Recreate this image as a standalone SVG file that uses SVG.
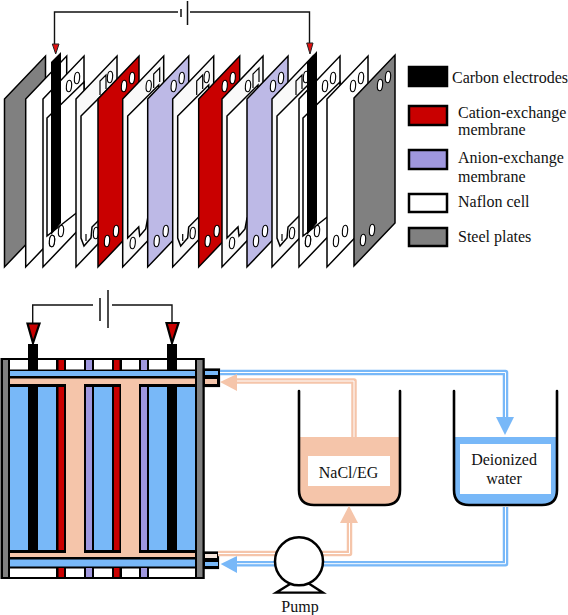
<svg xmlns="http://www.w3.org/2000/svg" width="568" height="615" viewBox="0 0 568 615">
<style>
text{font-family:"Liberation Serif","Times New Roman",serif;font-size:16px;fill:#111}
.m{text-anchor:middle}
.o{stroke:#000;stroke-width:1.500;stroke-linejoin:miter}
.h{fill:#fff;stroke:#000;stroke-width:1.100}
.w{fill:none;stroke:#111;stroke-width:1.400}
.k{fill:#000}
.leg{stroke:#000;stroke-width:2.500}
.bp{fill:none;stroke:#78b8f8;stroke-width:5.500;stroke-linejoin:round}
.pp{fill:none;stroke:#f5c5aa;stroke-width:5.500;stroke-linejoin:round}
.c{fill:none;stroke:#fff;stroke-width:1;stroke-linejoin:round}
.blue{fill:#78b8f8}.peach{fill:#f5c5aa}.red{fill:#c90000}.pur{fill:#9f97de}.gray{fill:#808080}
.bk{fill:none;stroke:#000;stroke-width:2.600;stroke-linecap:round}
.n{fill:none;stroke:#000;stroke-width:1.200}
</style>
<defs>
<ellipse id="hole" class="h" cx="0" cy="0" rx="2.600" ry="5.800" transform="rotate(5)"/>
<g id="holes"><use href="#hole" x="26" y="-13"/><use href="#hole" x="34" y="-21"/><use href="#hole" x="9" y="142"/><use href="#hole" x="18" y="132"/></g>
<path id="outline" d="M0,0L41,-43V125L0,168Z"/>
<g id="blank"><use href="#outline" fill="#fff" class="o"/></g>
<g id="plain"><use href="#outline" fill="#fff" class="o"/><use href="#holes"/></g>
<g id="solidred"><use href="#outline" class="o red"/><use href="#holes"/></g>
<g id="solidblue"><use href="#outline" class="o" fill="#bdb9e6"/><use href="#holes"/></g>
<g id="steel"><use href="#outline" class="o gray"/><use href="#holes"/></g>
<g id="simple"><use href="#outline" fill="#fff" class="o"/><use href="#holes"/><path d="M4,19L41,-17V108L4,137Z" fill="#fff" class="o"/><use href="#hole" x="9" y="142"/></g>
<g id="flowA"><use href="#outline" fill="#f9f9f9" class="o"/><path d="M5,17L36,-14V108L16,128L15,139L8,147L5,139Z" fill="#fff" class="o"/><use href="#hole" x="34" y="-22"/><use href="#hole" x="20" y="134"/><path class="n" d="M24,-4V-18L30,-24V-10"/><path class="n" d="M10,135V142"/></g>
<g id="flowB"><use href="#outline" fill="#f9f9f9" class="o"/><path d="M5,17L36,-14V108L25,119L23,130L17,137L16,128L5,139Z" fill="#fff" class="o"/><use href="#hole" x="26" y="-13"/><use href="#hole" x="10" y="144"/><path class="n" d="M31,-11V-25L37,-31V-17"/></g>
</defs>

<g id="stack">
<use id="plate-steel-left" href="#outline" class="o gray" x="4.500" y="99"/>
<use id="plate-2" href="#blank" x="25.700" y="99"/>
<use id="plate-3" href="#simple" x="43" y="99"/>
<polygon id="electrode-left" class="k" points="51,62 61,52 61,223 51,235"/>
<use id="plate-4" href="#flowA" x="76" y="99"/>
<use id="membrane-1" href="#solidred" x="98" y="99"/>
<use id="plate-5" href="#flowB" x="122.700" y="99"/>
<use id="membrane-2" href="#solidblue" x="147.700" y="99"/>
<use id="plate-6" href="#flowA" x="172.700" y="99"/>
<use id="membrane-3" href="#solidred" x="198.700" y="99"/>
<use id="plate-7" href="#flowB" x="222" y="99"/>
<use id="membrane-4" href="#solidblue" x="247" y="99"/>
<use id="plate-8" href="#flowA" x="272" y="99"/>
<use id="plate-9" href="#simple" x="299" y="99"/>
<polygon id="electrode-right" class="k" points="307,62 317,51 317,223 307,235"/>
<use id="plate-10" href="#plain" x="327" y="99"/>
<use id="plate-steel-right" href="#steel" x="354" y="98"/>
</g>

<g id="top-circuit">
<path class="w" d="M54.500,44V12H178M190,12H309.500V44"/>
<path d="M181,9V17M187.500,1V25" stroke="#111" stroke-width="1.500" fill="none"/>
<polygon points="52.300,44 59,44 55.700,54" fill="#e01010" stroke="#222" stroke-width="1"/>
<polygon points="306.700,43 313,43 310,54" fill="#e01010" stroke="#222" stroke-width="1"/>
</g>

<g id="legend">
<g id="legend-carbon"><rect class="leg k" x="409" y="67" width="38" height="19"/><text x="452" y="83">Carbon electrodes</text></g>
<g id="legend-cation"><rect class="leg red" x="409" y="106" width="38" height="19"/><text x="458" y="118">Cation-exchange</text><text x="458" y="135">membrane</text></g>
<g id="legend-anion"><rect class="leg pur" x="409" y="150" width="38" height="19"/><text x="458" y="163">Anion-exchange</text><text x="458" y="182">membrane</text></g>
<g id="legend-naflon"><rect class="leg" fill="#fff" x="409" y="194" width="38" height="18"/><text x="458" y="207">Naflon cell</text></g>
<g id="legend-steel"><rect class="leg gray" x="409" y="228" width="38" height="18"/><text x="458" y="242">Steel plates</text></g>
</g>

<g id="cell">
<rect x="1.500" y="359" width="202" height="219" fill="#fff" stroke="#000" stroke-width="2"/>
<rect class="blue" x="10" y="387" width="186" height="163"/>
<rect class="peach" x="10" y="377" width="186" height="8"/>
<rect class="peach" x="10" y="551" width="186" height="7"/>
<rect class="blue" x="10" y="370" width="186" height="7"/>
<rect class="blue" x="10" y="558" width="186" height="9"/>
<rect class="peach" x="66" y="377" width="18" height="180"/>
<rect class="peach" x="121" y="377" width="18" height="180"/>
<g fill="#000">
<rect x="10" y="369.500" width="186" height="1.500"/>
<rect x="10" y="376" width="186" height="2.500"/>
<rect x="10" y="384" width="56" height="3"/><rect x="84" y="384" width="37" height="3"/><rect x="139" y="384" width="57" height="3"/>
<rect x="10" y="550" width="56" height="3"/><rect x="84" y="550" width="37" height="3"/><rect x="139" y="550" width="57" height="3"/>
<rect x="10" y="557" width="186" height="2.500"/>
<rect x="10" y="566.500" width="186" height="2"/>
<rect x="56" y="359" width="10" height="11"/><rect x="84" y="359" width="10" height="11"/><rect x="112" y="359" width="10" height="11"/><rect x="139" y="359" width="10" height="11"/>
<rect x="56" y="384" width="10" height="168"/><rect x="84" y="384" width="10" height="168"/><rect x="112" y="384" width="9" height="168"/><rect x="139" y="384" width="10" height="168"/>
<rect x="56" y="568" width="10" height="10"/><rect x="84" y="568" width="10" height="10"/><rect x="112" y="568" width="10" height="10"/><rect x="139" y="568" width="10" height="10"/>
</g>
<rect class="red" x="58.500" y="360" width="5.500" height="10"/><rect class="red" x="58.500" y="387" width="5.500" height="163"/><rect class="red" x="58.500" y="568" width="5.500" height="9"/>
<rect class="pur" x="86" y="360" width="6" height="10"/><rect class="pur" x="86" y="387" width="6" height="163"/><rect class="pur" x="86" y="568" width="6" height="9"/>
<rect class="red" x="114" y="360" width="5.500" height="10"/><rect class="red" x="114" y="387" width="5.500" height="163"/><rect class="red" x="114" y="568" width="5.500" height="9"/>
<rect class="pur" x="141" y="360" width="6" height="10"/><rect class="pur" x="141" y="387" width="6" height="163"/><rect class="pur" x="141" y="568" width="6" height="9"/>
<rect class="blue" x="94" y="387" width="18" height="163"/>
<rect class="k" x="28" y="344" width="10" height="26"/><rect class="k" x="28" y="384" width="10" height="168"/>
<rect class="k" x="167" y="344" width="10" height="26"/><rect class="k" x="167" y="384" width="10" height="168"/>
<rect class="gray" x="2" y="359" width="7" height="219" stroke="#000" stroke-width="2"/>
<rect class="gray" x="196" y="359" width="7.500" height="219" stroke="#000" stroke-width="2"/>
<g stroke="#000" stroke-width="2.200">
<rect x="204" y="369.500" width="15" height="16.500" fill="#000"/>
<rect x="204" y="552.500" width="14" height="15.500" fill="#000"/>
</g>
<rect class="blue" x="205" y="371" width="13" height="4"/><rect class="peach" x="205" y="379" width="12" height="5"/>
<rect x="205" y="554" width="12" height="4" fill="#f5e5dc"/><rect class="blue" x="205" y="562" width="13" height="4"/>
</g>

<g id="bottom-circuit">
<path class="w" d="M32.700,323V305H93M112,305H172V323"/>
<path d="M100,298V321M108,290V328" stroke="#111" stroke-width="1.500" fill="none"/>
<polygon points="27.500,323.500 39.500,323.500 33,343" fill="#c90000" stroke="#000" stroke-width="2.200"/>
<polygon points="166.500,323 178.500,323 172,343" fill="#c90000" stroke="#000" stroke-width="2.200"/>
</g>

<g id="beaker-nacl">
<path class="peach" d="M299,437H400V490Q400,505 385,505H314Q299,505 299,490Z"/>
<path class="bk" d="M299,391V490Q299,505 314,505H385Q400,505 400,490V391"/>
<rect x="308" y="456" width="82" height="30" fill="#fff"/>
<text class="m" x="348.500" y="478">NaCl/EG</text>
</g>
<g id="beaker-water">
<path class="blue" d="M454,437H557V490Q557,505 542,505H469Q454,505 454,490Z"/>
<path class="bk" d="M454,391V490Q454,505 469,505H542Q557,505 557,490V391"/>
<rect x="460" y="444" width="91" height="50" fill="#fff"/>
<text class="m" x="504" y="465">Deionized</text>
<text class="m" x="504" y="484">water</text>
</g>

<g id="connectors">
<path class="bp" d="M220,372.500H505.500V420"/><path class="c" d="M220,372.500H505.500V420"/>
<polygon class="blue" points="496,417 514,417 505,435"/>
<path class="pp" d="M232,381H354V437"/><path class="c" d="M232,381H354V437"/>
<polygon class="peach" points="220,382 237,374 237,391"/>
<path class="bp" d="M505.500,507V563.700H232"/><path class="c" d="M505.500,507V563.700H232"/>
<polygon class="blue" points="220.700,564 237,556 237,573"/>
<path class="pp" d="M218,553.500H349.500V520"/><path class="c" d="M218,553.500H349.500V520"/>
<polygon class="peach" points="340,523 358,523 349,505.700"/>
</g>

<g id="pump">
<path d="M291.700,583L276,592.700H323L308,583" fill="#fff" stroke="#000" stroke-width="2.300"/>
<circle cx="299" cy="561.300" r="24" fill="#fff" stroke="#000" stroke-width="2.500"/>
<text class="m" x="300" y="611.500">Pump</text>
</g>
</svg>
